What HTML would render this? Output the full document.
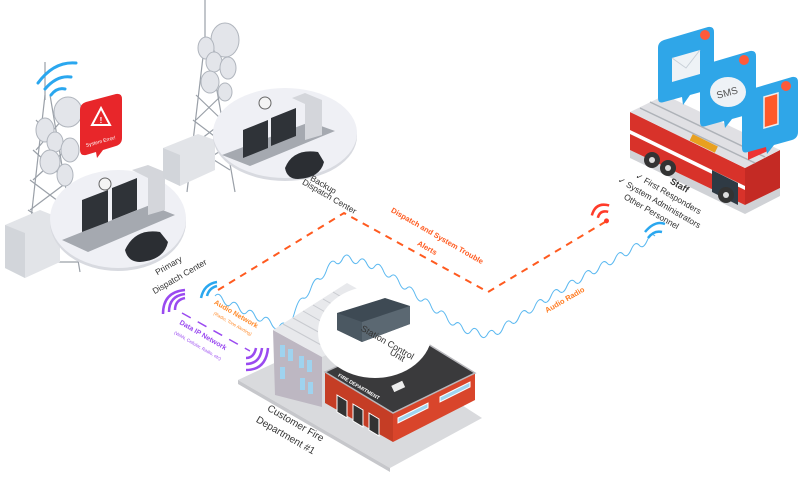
<!DOCTYPE html>
<html><head><meta charset="utf-8"><style>
html,body{margin:0;padding:0;background:#fff;}
svg{display:block;font-family:"Liberation Sans",sans-serif;}
</style></head><body>
<svg width="800" height="492" viewBox="0 0 800 492" xmlns="http://www.w3.org/2000/svg">
<!-- Primary tower -->
<g stroke="#9aa0a8" stroke-width="1.2" fill="none">
 <line x1="45" y1="62" x2="45" y2="100"/>
 <line x1="45" y1="95" x2="25" y2="272"/><line x1="50" y1="95" x2="80" y2="272"/>
 <line x1="28" y1="240" x2="74" y2="210"/><line x1="30" y1="210" x2="70" y2="180"/><line x1="33" y1="180" x2="66" y2="150"/><line x1="36" y1="150" x2="62" y2="120"/>
 <line x1="28" y1="210" x2="74" y2="240"/><line x1="30" y1="180" x2="70" y2="210"/><line x1="33" y1="150" x2="66" y2="180"/><line x1="36" y1="120" x2="62" y2="150"/>
 <line x1="26" y1="262" x2="78" y2="262"/>
</g>
<g fill="#e3e5ea" stroke="#b0b5bd">
 <ellipse cx="68" cy="112" rx="14" ry="15"/><ellipse cx="45" cy="130" rx="9" ry="12"/><ellipse cx="55" cy="142" rx="8" ry="10"/><ellipse cx="70" cy="150" rx="9" ry="12"/><ellipse cx="50" cy="162" rx="10" ry="12"/><ellipse cx="65" cy="175" rx="8" ry="11"/>
</g>
<path d="M5 225 L40 210 L60 218 L60 262 L25 278 L5 268Z" fill="#e2e4e8"/>
<path d="M5 225 L25 233 L25 278 L5 268Z" fill="#d2d5da"/>
<path d="M38 83 q16-22 38-20 M45 89 q12-14 26-12 M51 95 q6-8 14-6" stroke="#2aa7ef" stroke-width="3" fill="none" stroke-linecap="round"/>
<path d="M80 110 Q80 104 86 102 L116 94 Q122 93 122 99 L122 138 Q122 144 116 146 L103 150 L97 158 L96 152 L86 155 Q80 156 80 150Z" fill="#e8262a"/>
<path d="M101 108 l9 17 h-18z" fill="none" stroke="#fff" stroke-width="2"/>
<text x="101" y="123" font-size="8" fill="#fff" text-anchor="middle" font-weight="bold">!</text>
<text transform="translate(101,143) rotate(-15)" font-size="5" fill="#fff" text-anchor="middle">System Error!</text>
<!-- primary platform -->
<ellipse cx="118" cy="222" rx="68" ry="49" fill="#d8dae0"/>
<ellipse cx="118" cy="219" rx="68" ry="49" fill="#eff0f5"/>
<path d="M62 240 L150 205 L175 215 L88 252Z" fill="#a5a9b0"/>
<path d="M82 200 L108 190 L108 222 L82 232Z" fill="#2f3338"/><path d="M112 188 L137 178 L137 210 L112 220Z" fill="#2f3338"/>
<path d="M132 170 L148 165 L165 172 L165 210 L148 215 L148 178Z" fill="#d4d6db"/>
<circle cx="105" cy="184" r="6" fill="#f4f4f4" stroke="#666"/>
<path d="M125 250 q10-22 35-18 l8 10 q-4 18-28 20 q-12 0-15-12z" fill="#2b2e33"/>
<!-- Backup tower -->
<g stroke="#9aa0a8" stroke-width="1.2" fill="none">
 <line x1="205" y1="0" x2="205" y2="40"/>
 <line x1="205" y1="40" x2="187" y2="192"/><line x1="208" y1="40" x2="235" y2="192"/>
 <line x1="190" y1="170" x2="230" y2="145"/><line x1="193" y1="145" x2="226" y2="120"/><line x1="196" y1="120" x2="222" y2="95"/>
 <line x1="190" y1="145" x2="230" y2="170"/><line x1="193" y1="120" x2="226" y2="145"/><line x1="196" y1="95" x2="222" y2="120"/>
</g>
<g fill="#e3e5ea" stroke="#b0b5bd">
 <ellipse cx="225" cy="40" rx="14" ry="17"/><ellipse cx="206" cy="48" rx="8" ry="11"/><ellipse cx="214" cy="62" rx="8" ry="10"/><ellipse cx="228" cy="68" rx="8" ry="11"/><ellipse cx="210" cy="82" rx="9" ry="11"/><ellipse cx="225" cy="92" rx="7" ry="9"/>
</g>
<path d="M163 148 L198 134 L215 140 L215 170 L180 186 L163 178Z" fill="#e2e4e8"/>
<path d="M163 148 L180 155 L180 186 L163 178Z" fill="#d2d5da"/>
<!-- backup platform -->
<ellipse cx="285" cy="136" rx="72" ry="45" fill="#d8dae0"/>
<ellipse cx="285" cy="133" rx="72" ry="45" fill="#eff0f5"/>
<path d="M222 155 L310 122 L335 131 L250 166Z" fill="#a5a9b0"/>
<path d="M243 130 L268 120 L268 148 L243 158Z" fill="#2f3338"/><path d="M271 118 L296 108 L296 136 L271 146Z" fill="#2f3338"/>
<path d="M292 98 L305 93 L322 100 L322 135 L305 140 L305 104Z" fill="#d4d6db"/>
<circle cx="265" cy="103" r="6" fill="#f4f4f4" stroke="#666"/>
<path d="M285 168 q8-20 33-16 l6 10 q-4 16-26 17 q-11 0-13-11z" fill="#2b2e33"/>
<!-- labels -->
<text transform="translate(170,268) rotate(-30)" font-size="8.5" fill="#333" text-anchor="middle">Primary</text>
<text transform="translate(181,279) rotate(-30)" font-size="8.5" fill="#333" text-anchor="middle">Dispatch Center</text>
<text transform="translate(322,187) rotate(30)" font-size="8.5" fill="#333" text-anchor="middle">Backup</text>
<text transform="translate(328,199) rotate(30)" font-size="8.5" fill="#333" text-anchor="middle">Dispatch Center</text>
<!-- orange dashed -->
<path d="M218 290 L344 213 L488 292 L605 222" stroke="#ff5a1f" stroke-width="2" stroke-dasharray="7 6" fill="none"/>
<text transform="translate(436,238) rotate(30)" font-size="7.5" fill="#ff5a1f" font-weight="bold" text-anchor="middle">Dispatch and System Trouble</text>
<text transform="translate(426,250) rotate(30)" font-size="7.5" fill="#ff5a1f" font-weight="bold" text-anchor="middle">Alerts</text>
<g transform="rotate(-30 606 220)"><circle cx="606" cy="221" r="2.5" fill="#ff3b2a"/><path d="M600 214 q6-6 12 0 M596 209 q10-10 20 0" stroke="#ff3b2a" stroke-width="2.5" fill="none"/></g>
<!-- blue wave (behind building) -->
<path d="M215 296 Q219 291 223 300 Q227 309 231 304 Q235 299 239 308 Q243 317 247 312 Q251 307 255 316 Q259 324.5 263 319 Q267 314 271 323 Q275 332 279 327 Q283 319.5 287 326 Q291 325.5 295 311 Q299 297.5 303 298 Q307 300 311 288 Q315 276.5 319 279 Q323 281 327 269 Q331 258.5 335 262 Q339 267 343 258 Q347 251.5 351 259 Q355 267 359 261 Q363 255.5 367 264 Q371 272 375 266 Q379 261 383 270 Q387 280 391 276 Q395 272 399 282 Q403 292 407 288 Q411 284 415 294 Q419 304 423 300 Q427 296 431 306 Q435 316 439 312 Q443 308 447 318 Q451 328 455 324 Q459 319.5 463 329 Q467 337 471 331 Q475 325 479 333 Q483 341 487 335 Q491 327 495 333 Q499 337.5 503 328 Q507 318 511 322 Q515 326.5 519 317 Q523 307.5 527 312 Q531 316 535 306 Q539 296.5 543 301 Q547 305.5 551 296 Q555 286.5 559 291 Q563 295.5 567 286 Q571 277 575 282 Q579 286.5 583 277 Q587 267.5 591 272 Q595 277 599 268 Q603 258.5 607 263 Q611 268 615 259 Q619 249.5 623 254 Q627 259 631 250 Q635 240.5 639 245 Q643 250 647 241 Q651 231.5 655 236" stroke="#5ab8f0" stroke-width="1" fill="none"/>
<!-- building base -->
<path d="M238 380 L345 330 L482 418 L390 468Z" fill="#d9dadd"/>
<path d="M238 380 L390 468 L390 472 L238 384Z" fill="#c6c7cb"/>
<!-- gray building -->
<path d="M273 330 L322 357 L322 407 L275 395Z" fill="#bdb7c2"/>
<path d="M273 330 L347 283 L410 318 L322 357Z" fill="#e8e9ec"/>
<g stroke="#c8cacf" stroke-width="1">
 <line x1="283" y1="324" x2="332" y2="351"/><line x1="293" y1="318" x2="342" y2="345"/><line x1="303" y1="311" x2="352" y2="339"/><line x1="313" y1="305" x2="362" y2="333"/><line x1="323" y1="299" x2="372" y2="327"/><line x1="333" y1="292" x2="382" y2="321"/>
</g>
<g fill="#9fd3ef"><rect x="280" y="345" width="5" height="12"/><rect x="288" y="349" width="5" height="12"/><rect x="299" y="356" width="5" height="12"/><rect x="307" y="360" width="5" height="12"/><rect x="280" y="367" width="5" height="12"/><rect x="300" y="378" width="5" height="12"/><rect x="308" y="382" width="5" height="12"/></g>
<!-- red building -->
<path d="M325 372 L393 413 L393 442 L325 403Z" fill="#c53d25"/>
<path d="M393 413 L475 373 L475 400 L393 442Z" fill="#d9452b"/>
<path d="M325 372 L410 333 L475 373 L393 413Z" fill="#3a3a3c" stroke="#b8b8bc" stroke-width="1.5"/>
<text transform="translate(358,388) rotate(30)" font-size="5" fill="#fff" font-weight="bold" text-anchor="middle">FIRE DEPARTMENT</text>
<g fill="#333" stroke="#fff" stroke-width="1"><path d="M337 395 L347 401 L347 418 L337 412Z"/><path d="M353 404 L363 410 L363 427 L353 421Z"/><path d="M369 413 L379 419 L379 436 L369 430Z"/></g>
<g fill="#9fd3ef" stroke="#fff"><path d="M398 418 L428 403 L428 408 L398 423Z"/><path d="M440 397 L470 382 L470 387 L440 402Z"/></g>
<rect x="392" y="383" width="12" height="7" fill="#eee" transform="rotate(-25 398 386)"/>
<!-- station control unit circle -->
<ellipse cx="375" cy="332" rx="57" ry="46" fill="#fff"/>
<path d="M337 313 L385 298 L410 306 L410 324 L362 342 L337 330Z" fill="#3e4a54"/>
<path d="M337 313 L362 322 L362 342 L337 330Z" fill="#4b5862"/>
<path d="M362 322 L410 306 L410 324 L362 342Z" fill="#5b6872"/>
<text transform="translate(386,345) rotate(30)" font-size="9" fill="#333" text-anchor="middle">Station Control</text>
<text transform="translate(396,358) rotate(30)" font-size="9" fill="#333" text-anchor="middle">Unit</text>
<text transform="translate(294,426) rotate(30)" font-size="10" fill="#333" text-anchor="middle">Customer Fire</text>
<text transform="translate(284,438) rotate(30)" font-size="10" fill="#333" text-anchor="middle">Department #1</text>
<path d="M207 296 q2-8 10-10 M201 298 q3-14 16-16" stroke="#2aa7ef" stroke-width="2.5" fill="none"/>
<path d="M648 238 q6-8 14-6 M645 232 q10-12 20-8" stroke="#2aa7ef" stroke-width="2.5" fill="none"/>
<text transform="translate(566,302) rotate(-30)" font-size="7.5" fill="#ff7a1f" font-weight="bold" text-anchor="middle">Audio Radio</text>
<!-- left network labels -->
<text transform="translate(235,316) rotate(30)" font-size="7" fill="#ff8a2a" font-weight="bold" text-anchor="middle">Audio Network</text>
<text transform="translate(232,325) rotate(30)" font-size="4.5" fill="#ff8a2a" text-anchor="middle">(Radio, Tone Alerting)</text>
<text transform="translate(202,337) rotate(30)" font-size="7" fill="#9a4af0" font-weight="bold" text-anchor="middle">Data IP Network</text>
<text transform="translate(197,347) rotate(30)" font-size="4.5" fill="#9a4af0" text-anchor="middle">(WAN, Cellular, Radio, etc)</text>
<path d="M182 313 l68 38" stroke="#9a4af0" stroke-width="1.5" stroke-dasharray="10 8" fill="none"/>
<path d="M175 310 q0-10 10-12 M169 312 q0-16 16-18 M163 314 q0-22 22-24" stroke="#9a4af0" stroke-width="2.5" fill="none"/>
<path d="M246 358 q8 0 10-10 M246 364 q14 0 16-16 M246 370 q20 0 22-22" stroke="#9a4af0" stroke-width="2.5" fill="none"/>
<!-- fire truck -->
<path d="M630 150 L745 205 L780 188 L780 196 L745 214 L630 158Z" fill="#d0d2d6"/>
<path d="M630 112 L745 168 L745 205 L630 150Z" fill="#d8322a"/>
<path d="M630 130 L745 186 L745 190 L630 134Z" fill="#fff"/>
<path d="M745 168 L780 150 L780 188 L745 205Z" fill="#c42a24"/>
<path d="M630 112 L665 95 L780 150 L745 168Z" fill="#e0e0e4"/>
<g stroke="#aeb2b8" stroke-width="1.5"><line x1="640" y1="108" x2="755" y2="163"/><line x1="650" y1="102" x2="765" y2="157"/></g>
<path d="M748 146 L770 136 L770 150 L748 160Z" fill="#e33"/>
<path d="M712 170 L738 183 L738 205 L712 192Z" fill="#2f3a44"/>
<circle cx="652" cy="160" r="8" fill="#333"/><circle cx="668" cy="168" r="8" fill="#333"/><circle cx="726" cy="195" r="8" fill="#333"/>
<circle cx="652" cy="160" r="3" fill="#ddd"/><circle cx="668" cy="168" r="3" fill="#ddd"/><circle cx="726" cy="195" r="3" fill="#ddd"/>
<rect x="690" y="140" width="28" height="7" fill="#e8a020" transform="rotate(26 704 143)"/>
<!-- bubbles -->
<g fill="#2fa6e8">
 <path d="M658 48 Q658 42 664 40 L708 27 Q714 26 714 32 L714 82 Q714 88 708 90 L690 95 L683 105 L682 97 L664 102 Q658 104 658 98Z"/>
 <path d="M700 72 Q700 66 706 64 L750 51 Q756 50 756 56 L756 106 Q756 112 750 114 L732 119 L725 128 L724 121 L706 126 Q700 128 700 122Z"/>
 <path d="M742 98 Q742 92 748 90 L792 77 Q798 76 798 82 L798 132 Q798 138 792 140 L774 145 L767 154 L766 147 L748 152 Q742 154 742 148Z"/>
</g>
<path d="M672 58 L700 50 L700 74 L672 82Z" fill="#eef2f6"/>
<path d="M672 58 L686 68 L700 50" fill="none" stroke="#c8d0d8"/>
<ellipse cx="728" cy="92" rx="18" ry="15" fill="#eef2f6"/>
<text transform="translate(728,96) rotate(-15)" font-size="10" fill="#555" text-anchor="middle">SMS</text>
<path d="M764 97 L778 93 L778 124 L764 128Z" fill="#ff5a2a" stroke="#eee" stroke-width="1.5"/>
<circle cx="705" cy="35" r="5" fill="#ff5a3a"/><circle cx="744" cy="60" r="5" fill="#ff5a3a"/><circle cx="786" cy="86" r="5" fill="#ff5a3a"/>
<!-- staff -->
<text transform="translate(678,188) rotate(30)" font-size="9" fill="#333" font-weight="bold" text-anchor="middle">Staff</text>
<text transform="translate(667,196) rotate(30)" font-size="8.5" fill="#333" text-anchor="middle">✓ First Responders</text>
<text transform="translate(658,205) rotate(30)" font-size="8.5" fill="#333" text-anchor="middle">✓ System Administrators</text>
<text transform="translate(650,214) rotate(30)" font-size="8.5" fill="#333" text-anchor="middle">Other Personnel</text>
</svg>
</body></html>
